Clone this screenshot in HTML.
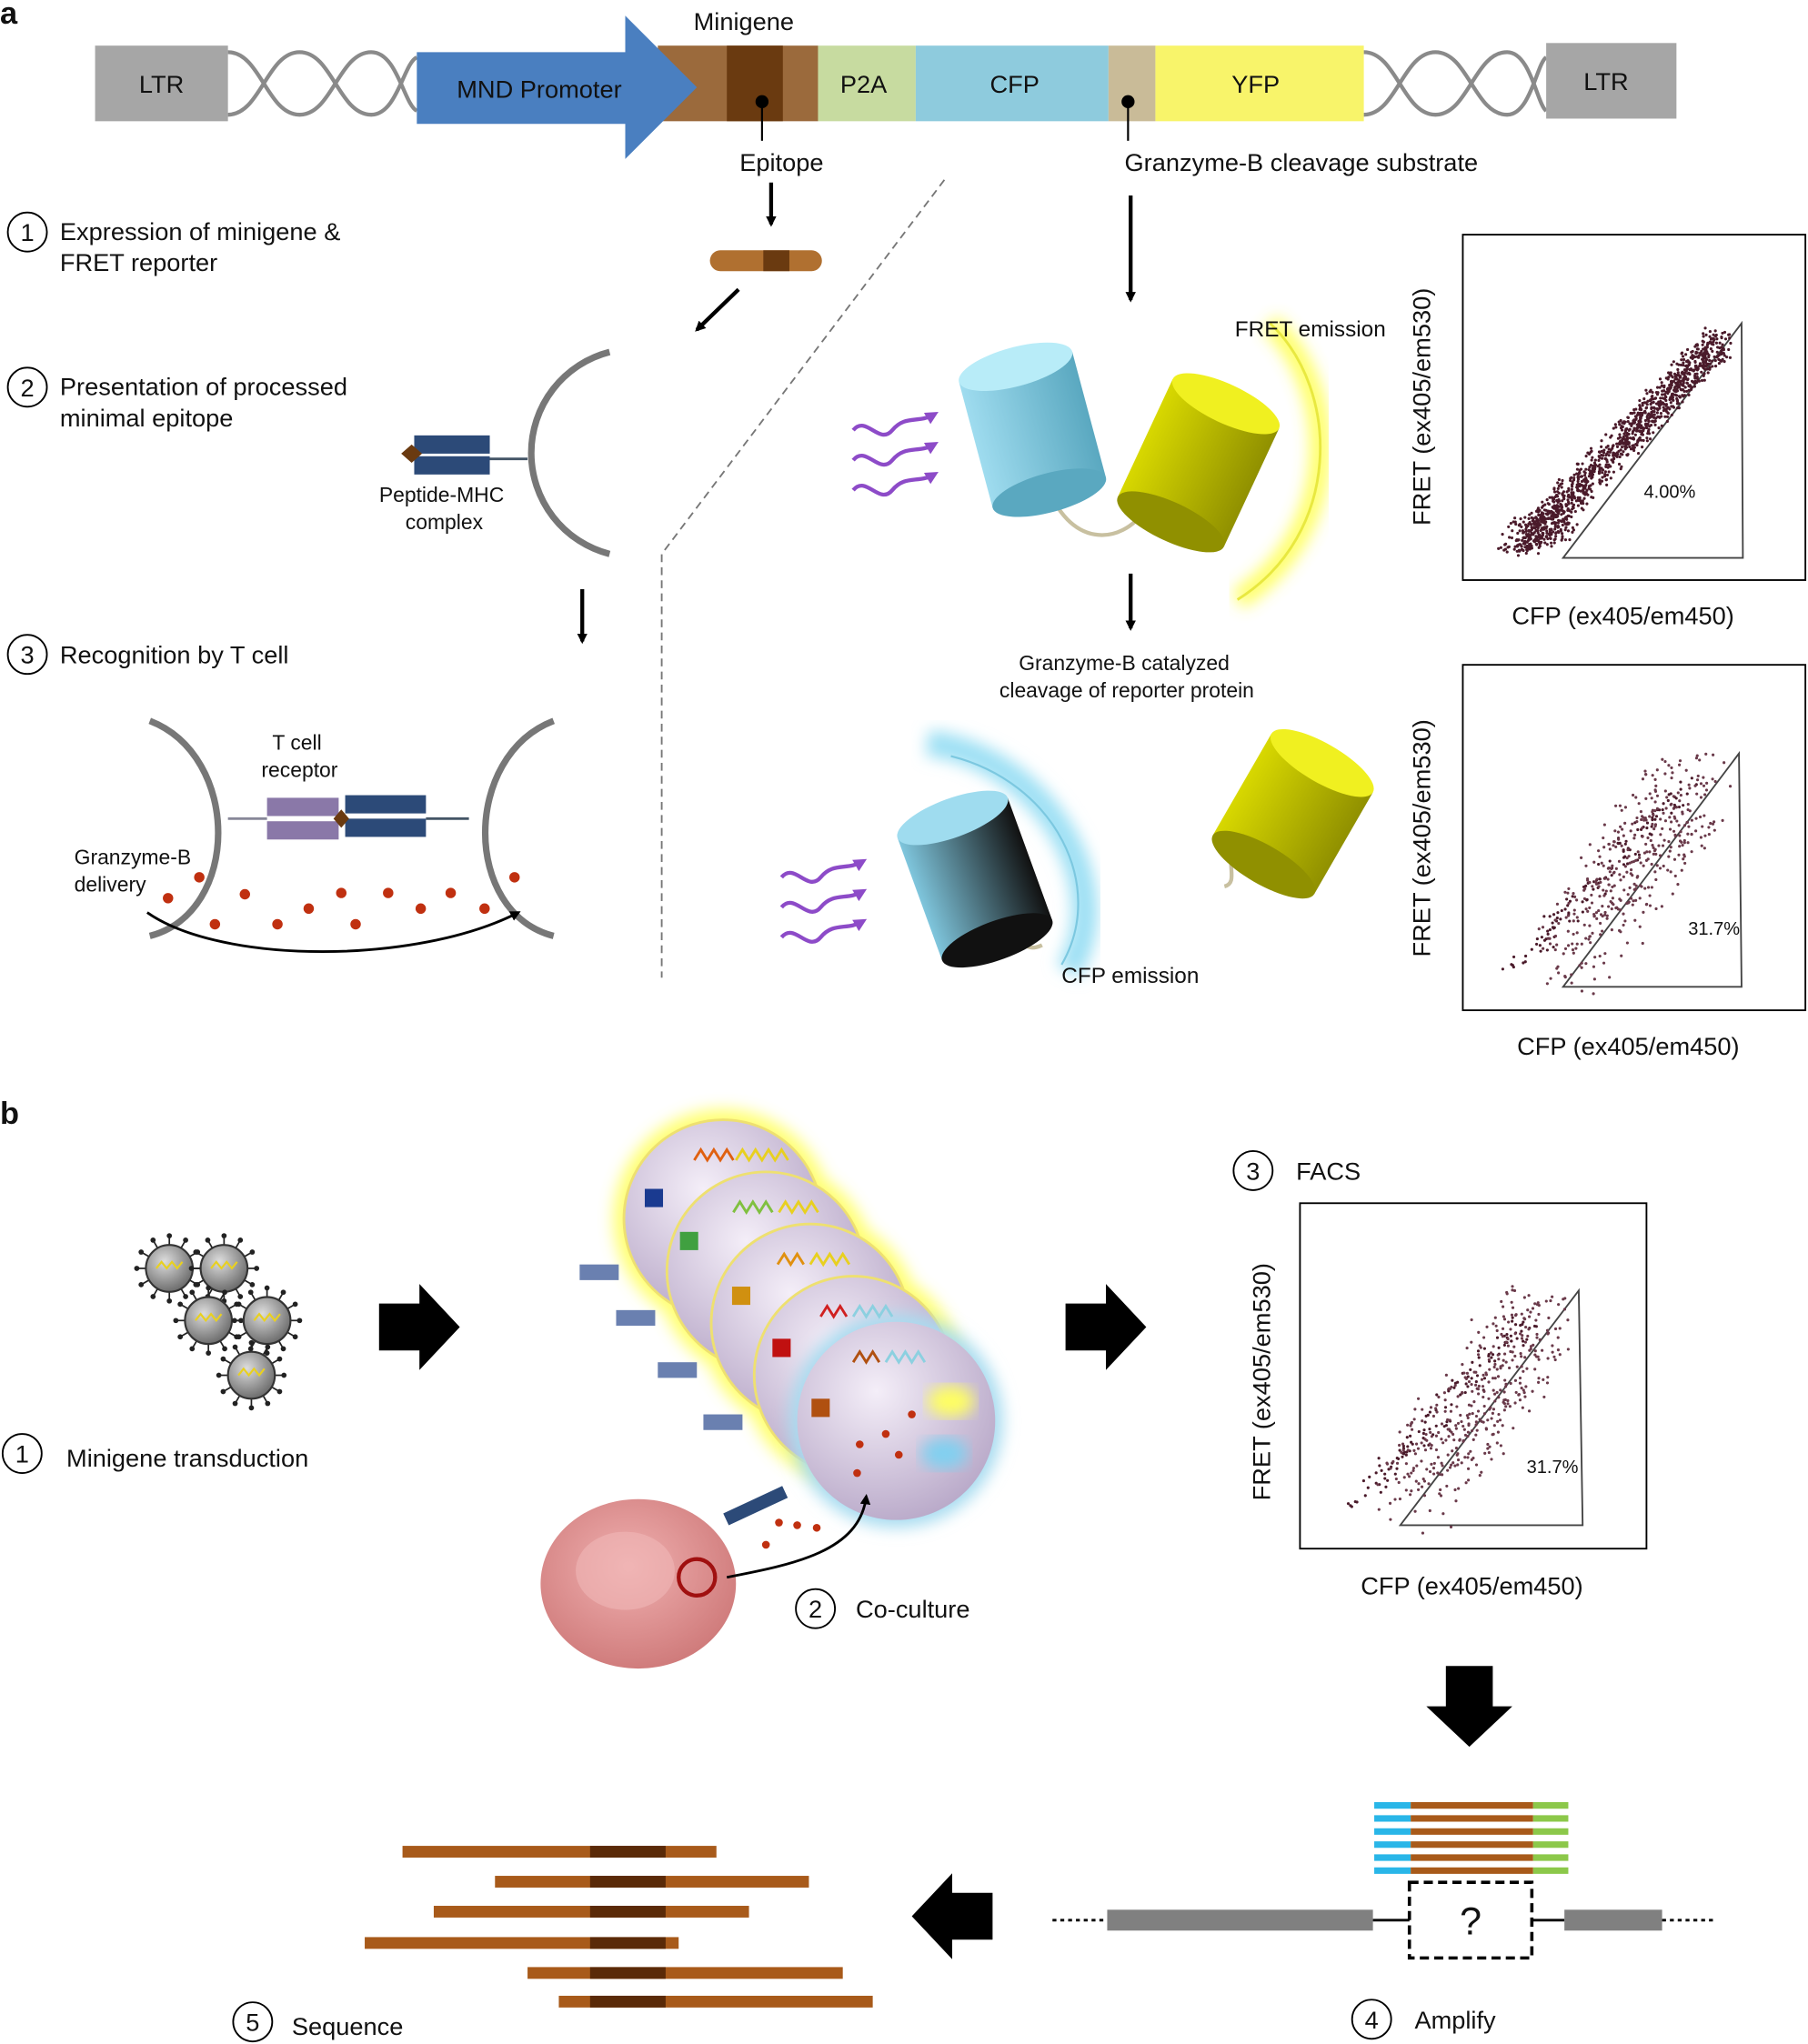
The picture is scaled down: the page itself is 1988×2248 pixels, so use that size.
<!DOCTYPE html>
<html><head><meta charset="utf-8"><style>
html,body{margin:0;padding:0;background:#fff}
svg{display:block}
text{font-family:"Liberation Sans",sans-serif;fill:#111}
</style></head><body>
<svg id="s" width="1988" height="2248" viewBox="0 0 1388 1568" preserveAspectRatio="none" xmlns="http://www.w3.org/2000/svg">
<defs>
<marker id="ah" markerWidth="8" markerHeight="8" refX="6" refY="4" orient="auto" markerUnits="userSpaceOnUse"><path d="M0,0 L8,4 L0,8 z" fill="#000"/></marker>
<marker id="ahp" markerWidth="10" markerHeight="10" refX="6" refY="5" orient="auto" markerUnits="userSpaceOnUse"><path d="M0,0 L10,5 L0,10 z" fill="#8d4bc8"/></marker>
<radialGradient id="cell" cx="0.4" cy="0.35" r="0.7"><stop offset="0" stop-color="#f4eef8"/><stop offset="1" stop-color="#b8a8c8"/></radialGradient>
<radialGradient id="rbc" cx="0.45" cy="0.4" r="0.6"><stop offset="0" stop-color="#f0b0b0"/><stop offset="1" stop-color="#d07c7c"/></radialGradient>
<radialGradient id="virgrad" cx="0.4" cy="0.35" r="0.7"><stop offset="0" stop-color="#ddd"/><stop offset="1" stop-color="#666"/></radialGradient>
<linearGradient id="cyl" x1="0" x2="1"><stop offset="0" stop-color="#9fdcef"/><stop offset="1" stop-color="#5aa8c0"/></linearGradient>
<linearGradient id="cylk" x1="0" x2="1"><stop offset="0" stop-color="#7fc6dd"/><stop offset="1" stop-color="#111"/></linearGradient>
<linearGradient id="ycyl" x1="0" x2="1"><stop offset="0" stop-color="#d8d800"/><stop offset="1" stop-color="#909000"/></linearGradient>
<filter id="blur"><feGaussianBlur stdDeviation="6"/></filter>
</defs>

<!-- PANEL a -->
<text x="0" y="18" font-size="24" font-weight="bold">a</text>
<rect x="73" y="35" width="102" height="58" fill="#a6a6a6"/><text x="124" y="71" font-size="19" text-anchor="middle">LTR</text>
<g stroke="#8a8a8a" stroke-width="3" fill="none">
<path d="M175,40 C200,40 205,88 230,88 C255,88 260,40 285,40 C305,40 310,80 320,85"/>
<path d="M175,88 C200,88 205,40 230,40 C255,40 260,88 285,88 C305,88 310,48 320,44"/>
<path d="M1047,40 C1072,40 1077,88 1102,88 C1127,88 1132,40 1157,40 C1175,40 1180,80 1187,85"/>
<path d="M1047,88 C1072,88 1077,40 1102,40 C1127,40 1132,88 1157,88 C1175,88 1180,48 1187,44"/>
</g>
<rect x="505" y="35" width="123" height="58" fill="#9b6a3c"/><rect x="558" y="35" width="43" height="58" fill="#6a3a10"/>
<path d="M320,40 L480,40 L480,12 L535,67 L480,122 L480,95 L320,95 z" fill="#4a7fc0"/>
<text x="414" y="75" font-size="19" text-anchor="middle">MND Promoter</text>
<text x="571" y="23" font-size="19" text-anchor="middle">Minigene</text>
<rect x="628" y="35" width="75" height="58" fill="#c7dba0"/><text x="663" y="71" font-size="19" text-anchor="middle">P2A</text>
<rect x="703" y="35" width="148" height="58" fill="#8ecbdd"/><text x="779" y="71" font-size="19" text-anchor="middle">CFP</text>
<rect x="851" y="35" width="36" height="58" fill="#c9bb98"/>
<rect x="887" y="35" width="160" height="58" fill="#f8f46a"/><text x="964" y="71" font-size="19" text-anchor="middle">YFP</text>
<rect x="1187" y="33" width="100" height="58" fill="#a6a6a6"/><text x="1233" y="69" font-size="19" text-anchor="middle">LTR</text>
<circle cx="585" cy="78" r="5"/><line x1="585" y1="78" x2="585" y2="108" stroke="#000" stroke-width="1.5"/>
<circle cx="866" cy="78" r="5"/><line x1="866" y1="78" x2="866" y2="108" stroke="#000" stroke-width="1.5"/>
<text x="600" y="131" font-size="19" text-anchor="middle">Epitope</text>
<text x="999" y="131" font-size="19" text-anchor="middle">Granzyme-B cleavage substrate</text>

<g stroke="#000" stroke-width="3" marker-end="url(#ah)">
<line x1="592" y1="140" x2="592" y2="172"/>
<line x1="567" y1="222" x2="535" y2="253"/>
<line x1="447" y1="452" x2="447" y2="492"/>
<line x1="868" y1="150" x2="868" y2="230"/>
<line x1="868" y1="440" x2="868" y2="482"/>
</g>
<rect x="545" y="192" width="86" height="16" rx="8" fill="#b07030"/><rect x="586" y="192" width="20" height="16" fill="#6a3a10"/>
<path d="M725,138 L508,425 L508,750" stroke="#777" stroke-width="1.3" stroke-dasharray="6,4" fill="none"/>

<g font-size="19">
<circle cx="21" cy="178" r="15" fill="none" stroke="#000" stroke-width="1.3"/><text x="21" y="185" text-anchor="middle">1</text>
<text x="46" y="184">Expression of minigene &amp;</text><text x="46" y="208">FRET reporter</text>
<circle cx="21" cy="297" r="15" fill="none" stroke="#000" stroke-width="1.3"/><text x="21" y="304" text-anchor="middle">2</text>
<text x="46" y="303">Presentation of processed</text><text x="46" y="327">minimal epitope</text>
<circle cx="21" cy="502" r="15" fill="none" stroke="#000" stroke-width="1.3"/><text x="21" y="509" text-anchor="middle">3</text>
<text x="46" y="509">Recognition by T cell</text>
</g>
<path d="M468,270 A80,80 0 0 0 468,425" stroke="#777" stroke-width="5" fill="none"/>
<line x1="375" y1="352" x2="405" y2="352" stroke="#456" stroke-width="2"/>
<rect x="318" y="334" width="58" height="14" fill="#2c4a78"/><rect x="318" y="350" width="58" height="14" fill="#2c4a78"/>
<path d="M308,348 L316,341 L324,348 L316,355z" fill="#6a3a10"/>
<text x="339" y="385" font-size="16" text-anchor="middle">Peptide-MHC</text><text x="341" y="406" font-size="16" text-anchor="middle">complex</text>
<path d="M115,553 C185,580 185,700 115,718" stroke="#777" stroke-width="5" fill="none"/>
<path d="M425,553 C355,580 355,700 425,718" stroke="#777" stroke-width="5" fill="none"/>
<rect x="205" y="612" width="55" height="14" fill="#8a78a8"/><rect x="205" y="630" width="55" height="14" fill="#8a78a8"/>
<rect x="265" y="610" width="62" height="14" fill="#2c4a78"/><rect x="265" y="628" width="62" height="14" fill="#2c4a78"/>
<path d="M256,628 L262,621 L268,628 L262,635z" fill="#6a3a10"/>
<line x1="175" y1="628" x2="205" y2="628" stroke="#889" stroke-width="2"/><line x1="327" y1="628" x2="360" y2="628" stroke="#456" stroke-width="2"/>
<text x="228" y="575" font-size="16" text-anchor="middle">T cell</text><text x="230" y="596" font-size="16" text-anchor="middle">receptor</text>
<text x="57" y="663" font-size="16">Granzyme-B</text><text x="57" y="684" font-size="16">delivery</text>
<g fill="#c03010"><circle cx="153" cy="673" r="4"/><circle cx="188" cy="686" r="4"/><circle cx="237" cy="697" r="4"/><circle cx="262" cy="685" r="4"/><circle cx="298" cy="685" r="4"/><circle cx="323" cy="697" r="4"/><circle cx="346" cy="685" r="4"/><circle cx="372" cy="697" r="4"/><circle cx="395" cy="673" r="4"/><circle cx="165" cy="709" r="4"/><circle cx="213" cy="709" r="4"/><circle cx="273" cy="709" r="4"/><circle cx="129" cy="689" r="4"/></g>
<path d="M113,700 C170,740 320,740 398,700" stroke="#000" stroke-width="2" fill="none" marker-end="url(#ah)"/>

<!-- FRET reporter -->
<path d="M975,248 C1030,300 1030,410 950,460" stroke="#ffff40" stroke-width="16" fill="none" filter="url(#blur)" opacity="0.8"/>
<path d="M975,248 C1030,300 1030,410 950,460" stroke="#e8e840" stroke-width="2" fill="none"/>
<text x="948" y="258" font-size="17">FRET emission</text>
<g stroke="#8d4bc8" stroke-width="3" fill="none" marker-end="url(#ahp)">
<path d="M655,330 c10,-12 20,12 30,0 s20,-5 32,-12"/><path d="M655,353 c10,-12 20,12 30,0 s20,-5 32,-12"/><path d="M655,376 c10,-12 20,12 30,0 s20,-5 32,-12"/>
<path d="M600,673 c10,-12 20,12 30,0 s20,-5 32,-12"/><path d="M600,696 c10,-12 20,12 30,0 s20,-5 32,-12"/><path d="M600,719 c10,-12 20,12 30,0 s20,-5 32,-12"/>
</g>
<path d="M803,370 C820,420 860,420 880,390" stroke="#c8c0a0" stroke-width="3" fill="none"/>
<g transform="rotate(-15 790 320)"><rect x="745" y="280" width="90" height="100" fill="url(#cyl)"/><ellipse cx="790" cy="280" rx="45" ry="15" fill="#b8ecf8"/><ellipse cx="790" cy="380" rx="45" ry="15" fill="#5aa8c0"/></g>
<g transform="rotate(25 920 355)"><rect x="875" y="305" width="90" height="100" fill="url(#ycyl)"/><ellipse cx="920" cy="305" rx="45" ry="15" fill="#f0f020"/><ellipse cx="920" cy="405" rx="45" ry="15" fill="#909000"/></g>
<text x="863" y="514" font-size="16" text-anchor="middle">Granzyme-B catalyzed</text><text x="865" y="535" font-size="16" text-anchor="middle">cleavage of reporter protein</text>
<path d="M712,570 C800,580 860,680 820,745" stroke="#9ee0f4" stroke-width="20" fill="none" filter="url(#blur)"/>
<path d="M730,580 C810,600 850,680 815,740" stroke="#7cc8e0" stroke-width="1.5" fill="none"/>
<path d="M780,710 C782,725 790,730 800,725" stroke="#c8c0a0" stroke-width="3" fill="none"/>
<g transform="rotate(-20 745 665)"><rect x="700" y="625" width="90" height="100" fill="url(#cylk)"/><ellipse cx="745" cy="625" rx="45" ry="15" fill="#9fdcef"/><ellipse cx="745" cy="725" rx="45" ry="15" fill="#111"/></g>
<path d="M945,660 C945,670 948,678 940,680" stroke="#c8c0a0" stroke-width="3" fill="none"/>
<g transform="rotate(30 995 620)"><rect x="950" y="580" width="90" height="90" fill="url(#ycyl)"/><ellipse cx="995" cy="580" rx="45" ry="15" fill="#f0f020"/><ellipse cx="995" cy="670" rx="45" ry="15" fill="#909000"/></g>
<text x="815" y="754" font-size="17">CFP emission</text>

<!-- plots a -->
<rect x="1123" y="180" width="263" height="265" fill="none" stroke="#000" stroke-width="1.3"/>
<path d="M1200,428 L1337,248 L1338,428 z" fill="none" stroke="#444" stroke-width="1.3"/>
<text x="1262" y="382" font-size="14">4.00%</text>
<text x="1246" y="479" font-size="19" text-anchor="middle">CFP (ex405/em450)</text>
<text transform="translate(1098,312) rotate(-90)" font-size="19" text-anchor="middle">FRET (ex405/em530)</text>
<rect x="1123" y="510" width="263" height="265" fill="none" stroke="#000" stroke-width="1.3"/>
<path d="M1200,757 L1335,578 L1337,757 z" fill="none" stroke="#444" stroke-width="1.3"/>
<text x="1296" y="717" font-size="14">31.7%</text>
<text x="1250" y="809" font-size="19" text-anchor="middle">CFP (ex405/em450)</text>
<text transform="translate(1098,643) rotate(-90)" font-size="19" text-anchor="middle">FRET (ex405/em530)</text>

<!-- PANEL b -->
<text x="0" y="862" font-size="24" font-weight="bold">b</text>
<g id="virg"></g>
<circle cx="17" cy="1115" r="15" fill="none" stroke="#000" stroke-width="1.3"/><text x="17" y="1122" font-size="19" text-anchor="middle">1</text>
<text x="51" y="1125" font-size="19">Minigene transduction</text>
<path d="M291,1000 L322,1000 L322,985 L353,1018 L322,1051 L322,1036 L291,1036z" fill="#000"/>
<path d="M818,1000 L849,1000 L849,985 L880,1018 L849,1051 L849,1036 L818,1036z" fill="#000"/>
<path d="M1110,1278 L1146,1278 L1146,1309 L1161,1309 L1128,1340 L1095,1309 L1110,1309z" fill="#000"/>
<path d="M762,1452 L731,1452 L731,1437 L700,1470 L731,1503 L731,1488 L762,1488z" fill="#000"/>
<!-- co-culture cells -->
<g fill="#ffff50" filter="url(#blur)" opacity="0.8"><circle cx="555" cy="935" r="84"/><circle cx="588" cy="975" r="84"/><circle cx="622" cy="1015" r="84"/><circle cx="655" cy="1055" r="84"/></g>
<circle cx="555" cy="935" r="76" fill="url(#cell)" stroke="#eee070" stroke-width="2"/>
<circle cx="588" cy="975" r="76" fill="url(#cell)" stroke="#eee070" stroke-width="2"/>
<circle cx="622" cy="1015" r="76" fill="url(#cell)" stroke="#eee070" stroke-width="2"/>
<circle cx="655" cy="1055" r="76" fill="url(#cell)" stroke="#eee070" stroke-width="2"/>
<circle cx="688" cy="1090" r="82" fill="#a8dcf0" filter="url(#blur)"/>
<circle cx="688" cy="1090" r="76" fill="url(#cell)"/>
<g fill="#6a80b0"><rect x="445" y="970" width="30" height="12"/><rect x="473" y="1005" width="30" height="12"/><rect x="505" y="1045" width="30" height="12"/><rect x="540" y="1085" width="30" height="12"/></g>
<g><rect x="495" y="912" width="14" height="14" fill="#1a3a90"/><rect x="522" y="945" width="14" height="14" fill="#40a040"/><rect x="562" y="987" width="14" height="14" fill="#d09010"/><rect x="593" y="1027" width="14" height="14" fill="#c01010"/><rect x="623" y="1073" width="14" height="14" fill="#b05010"/></g>
<g stroke-width="2" fill="none">
<path d="M533,890 l5,-8 5,8 5,-8 5,8 5,-8 5,8" stroke="#e06010"/><path d="M565,890 l5,-8 5,8 5,-8 5,8 5,-8 5,8 5,-8 5,8" stroke="#e8d020"/>
<path d="M563,930 l5,-8 5,8 5,-8 5,8 5,-8 5,8" stroke="#80c040"/><path d="M598,930 l5,-8 5,8 5,-8 5,8 5,-8 5,8" stroke="#e8d020"/>
<path d="M597,970 l5,-8 5,8 5,-8 5,8" stroke="#e09010"/><path d="M622,970 l5,-8 5,8 5,-8 5,8 5,-8 5,8" stroke="#e8d020"/>
<path d="M630,1010 l5,-8 5,8 5,-8 5,8" stroke="#d02020"/><path d="M655,1010 l5,-8 5,8 5,-8 5,8 5,-8 5,8" stroke="#8cd0e0"/>
<path d="M655,1045 l5,-8 5,8 5,-8 5,8" stroke="#b05010"/><path d="M680,1045 l5,-8 5,8 5,-8 5,8 5,-8 5,8" stroke="#8cd0e0"/>
</g>
<ellipse cx="730" cy="1075" rx="18" ry="12" fill="#ffff60" filter="url(#blur)"/>
<ellipse cx="725" cy="1115" rx="18" ry="12" fill="#80d0f0" filter="url(#blur)"/>
<g fill="#c03010"><circle cx="660" cy="1108" r="3"/><circle cx="680" cy="1100" r="3"/><circle cx="690" cy="1116" r="3"/><circle cx="658" cy="1130" r="3"/><circle cx="700" cy="1085" r="3"/><circle cx="598" cy="1168" r="3"/><circle cx="612" cy="1170" r="3"/><circle cx="627" cy="1172" r="3"/><circle cx="588" cy="1185" r="3"/></g>
<ellipse cx="490" cy="1215" rx="75" ry="65" fill="url(#rbc)"/>
<ellipse cx="480" cy="1205" rx="38" ry="30" fill="#f0b8b8" opacity="0.6"/>
<circle cx="535" cy="1210" r="14" fill="none" stroke="#a01010" stroke-width="3"/>
<rect x="555" y="1150" width="50" height="10" fill="#2c4a78" transform="rotate(-25 580 1155)"/>
<path d="M558,1210 C610,1200 660,1190 665,1148" stroke="#000" stroke-width="2" fill="none" marker-end="url(#ah)"/>
<circle cx="626" cy="1234" r="15" fill="none" stroke="#000" stroke-width="1.3"/><text x="626" y="1241" font-size="19" text-anchor="middle">2</text>
<text x="657" y="1241" font-size="19">Co-culture</text>
<!-- FACS -->
<circle cx="962" cy="898" r="15" fill="none" stroke="#000" stroke-width="1.3"/><text x="962" y="905" font-size="19" text-anchor="middle">3</text>
<text x="995" y="905" font-size="19">FACS</text>
<rect x="998" y="923" width="266" height="265" fill="none" stroke="#000" stroke-width="1.3"/>
<path d="M1075,1170 L1212,990 L1215,1170 z" fill="none" stroke="#444" stroke-width="1.3"/>
<text x="1172" y="1130" font-size="14">31.7%</text>
<text x="1130" y="1223" font-size="19" text-anchor="middle">CFP (ex405/em450)</text>
<text transform="translate(975,1060) rotate(-90)" font-size="19" text-anchor="middle">FRET (ex405/em530)</text>
<!-- amplify -->
<g stroke-width="5"><g stroke="#29b6e8"><line x1="1055" y1="1385" x2="1083" y2="1385"/><line x1="1055" y1="1395" x2="1083" y2="1395"/><line x1="1055" y1="1405" x2="1083" y2="1405"/><line x1="1055" y1="1415" x2="1083" y2="1415"/><line x1="1055" y1="1425" x2="1083" y2="1425"/><line x1="1055" y1="1435" x2="1083" y2="1435"/></g>
<g stroke="#a85a1a"><line x1="1083" y1="1385" x2="1177" y2="1385"/><line x1="1083" y1="1395" x2="1177" y2="1395"/><line x1="1083" y1="1405" x2="1177" y2="1405"/><line x1="1083" y1="1415" x2="1177" y2="1415"/><line x1="1083" y1="1425" x2="1177" y2="1425"/><line x1="1083" y1="1435" x2="1177" y2="1435"/></g>
<g stroke="#8cc84a"><line x1="1177" y1="1385" x2="1204" y2="1385"/><line x1="1177" y1="1395" x2="1204" y2="1395"/><line x1="1177" y1="1405" x2="1204" y2="1405"/><line x1="1177" y1="1415" x2="1204" y2="1415"/><line x1="1177" y1="1425" x2="1204" y2="1425"/><line x1="1177" y1="1435" x2="1204" y2="1435"/></g></g>
<line x1="808" y1="1473" x2="850" y2="1473" stroke="#000" stroke-width="2" stroke-dasharray="3,3"/>
<rect x="850" y="1465" width="204" height="16" fill="#808080"/>
<line x1="1054" y1="1473" x2="1082" y2="1473" stroke="#000" stroke-width="2"/>
<rect x="1082" y="1444" width="94" height="58" fill="none" stroke="#000" stroke-width="2.5" stroke-dasharray="7,4"/>
<text x="1129" y="1484" font-size="30" text-anchor="middle">?</text>
<line x1="1176" y1="1473" x2="1201" y2="1473" stroke="#000" stroke-width="2"/>
<rect x="1201" y="1465" width="75" height="16" fill="#808080"/>
<line x1="1276" y1="1473" x2="1318" y2="1473" stroke="#000" stroke-width="2" stroke-dasharray="3,3"/>
<circle cx="1053" cy="1549" r="15" fill="none" stroke="#000" stroke-width="1.3"/><text x="1053" y="1556" font-size="19" text-anchor="middle">4</text>
<text x="1086" y="1556" font-size="19">Amplify</text>
<!-- sequence -->
<g fill="#a85a1a"><rect x="309" y="1416" width="241" height="9"/><rect x="380" y="1439" width="241" height="9"/><rect x="333" y="1462" width="242" height="9"/><rect x="280" y="1486" width="241" height="9"/><rect x="405" y="1509" width="242" height="9"/><rect x="429" y="1531" width="241" height="9"/></g>
<g fill="#5a2a08"><rect x="453" y="1416" width="58" height="9"/><rect x="453" y="1439" width="58" height="9"/><rect x="453" y="1462" width="58" height="9"/><rect x="453" y="1486" width="58" height="9"/><rect x="453" y="1509" width="58" height="9"/><rect x="453" y="1531" width="58" height="9"/></g>
<circle cx="194" cy="1551" r="15" fill="none" stroke="#000" stroke-width="1.3"/><text x="194" y="1558" font-size="19" text-anchor="middle">5</text>
<text x="224" y="1561" font-size="19">Sequence</text>
<g id="dots"></g>
</svg>
<script>
var g=document.getElementById('dots'),ns='http://www.w3.org/2000/svg';
var seed=7;function r(){seed=(seed*9301+49297)%233280;return seed/233280;}
function el(t,a,p){var e=document.createElementNS(ns,t);for(var k in a)e.setAttribute(k,a[k]);(p||g).appendChild(e);return e;}
function blob(x0,y0,x1,y1,n,w,col){for(var i=0;i<n;i++){var t=Math.pow(r(),0.8),x=x0+(x1-x0)*t+(r()-0.5)*w,y=y0+(y1-y0)*t+(r()-0.5)*w;el('circle',{cx:x,cy:y,r:1.1,fill:col});}}
blob(1170,418,1320,262,1100,22,'#4a1a2a');blob(1160,415,1200,400,200,25,'#4a1a2a');
blob(1160,745,1300,600,120,18,'#4a1a2a');blob(1200,740,1300,600,400,60,'#6a3a4a');
blob(1035,1160,1175,1010,120,18,'#4a1a2a');blob(1075,1160,1180,1010,400,60,'#6a3a4a');
var vg=document.getElementById('virg');
[[130,973],[172,973],[160,1013],[205,1013],[193,1055]].forEach(function(c){
 for(var a=0;a<12;a++){var t=a*Math.PI/6,x1=c[0]+17*Math.cos(t),y1=c[1]+17*Math.sin(t),x2=c[0]+25*Math.cos(t),y2=c[1]+25*Math.sin(t);
 el('line',{x1:x1,y1:y1,x2:x2,y2:y2,stroke:'#222','stroke-width':1.2},vg);el('circle',{cx:x2,cy:y2,r:2,fill:'#222'},vg);}
 el('circle',{cx:c[0],cy:c[1],r:18,fill:'url(#virgrad)',stroke:'#333','stroke-width':1.5},vg);
 el('path',{d:'M'+(c[0]-10)+','+c[1]+' l4,-5 4,5 4,-5 4,5 4,-5',stroke:'#e8d020','stroke-width':1.5,fill:'none'},vg);
});
</script>
</body></html>
